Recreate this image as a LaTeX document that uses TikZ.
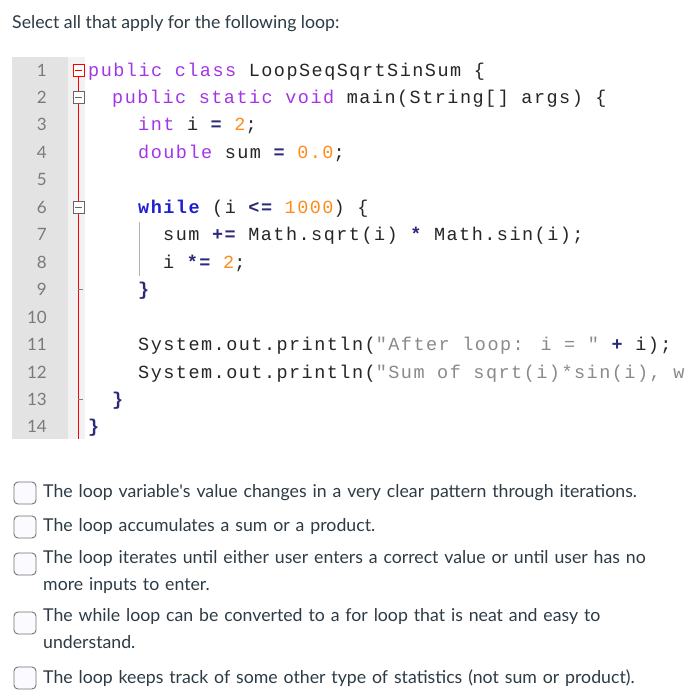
\documentclass[tikz,border=0pt]{standalone}
\usepackage{fontspec}
\setmainfont{Lato}
\newfontfamily\codefont[LetterSpace=8]{Liberation Mono}
\definecolor{kw}{HTML}{A335E8}
\definecolor{kwb}{HTML}{1F1FD0}
\definecolor{num}{HTML}{FF8C1A}
\definecolor{str}{HTML}{8A8A8A}
\definecolor{op}{HTML}{2A2A7A}
\definecolor{txt}{HTML}{2D3B45}
\definecolor{lnum}{HTML}{7A7A7A}
\newcommand{\K}[1]{\textcolor{kw}{#1}}
\newcommand{\W}[1]{\textcolor{kwb}{\bfseries #1}}
\newcommand{\N}[1]{\textcolor{num}{#1}}
\newcommand{\St}[1]{\textcolor{str}{#1}}
\newcommand{\Op}[1]{\textcolor{op}{\bfseries #1}}
\tikzset{
  code/.style={anchor=base west,inner sep=0pt,font=\codefont\fontsize{18.5}{20}\selectfont,text=black!85},
  lnumst/.style={anchor=base east,inner sep=0pt,font=\fontsize{17}{18}\selectfont,text=lnum},
  opt/.style={anchor=base west,inner sep=0pt,font=\fontsize{17.7}{27}\selectfont,text=txt,align=left,text width=650pt},
  cbox/.style={draw=black!55,fill=blue!2,rounded corners=4pt,line width=0.9pt},
  fold/.style={draw=#1,fill=white,line width=0.8pt}
}
\begin{document}
\begin{tikzpicture}[x=1pt,y=-1pt]
\useasboundingbox (0,0) rectangle (700,697);
\fill[white] (0,0) rectangle (700,697);
\node[anchor=base west,inner sep=0pt,font=\fontsize{17.7}{20}\selectfont,text=txt] (q) at (12,28) {Select all that apply for the following loop:};
% gutter
\fill[black!11] (12,57) rectangle (68,439);
\fill[black!5] (68,57) rectangle (85,439);
\draw[red,line width=1pt] (78,70) -- (78,439);
\foreach \i in {1,...,14}{
  \node[lnumst] (n\i) at (47,{76+27.46*(\i-1)}) {\i};
}
\draw[black!50] (78,{70+27.46*8}) -- (83,{70+27.46*8});
\draw[black!50] (78,{70+27.46*12}) -- (83,{70+27.46*12});
\draw[fold=red] (73,64) rectangle (84,76);
\draw[red] (75,70) -- (82,70);
\draw[fold=black!60] (73,{64+27.46}) rectangle (84,{76+27.46});
\draw[black!60] (75,{70+27.46}) -- (82,{70+27.46});
\draw[fold=black!60] (73,{64+27.46*5}) rectangle (84,{76+27.46*5});
\draw[black!60] (75,{70+27.46*5}) -- (82,{70+27.46*5});
\draw[black!30] (139,222) -- (139,276);
% code
\node[code] (c1) at (88,76) {\K{public class} LoopSeqSqrtSinSum \{};
\node[code] (c2) at (112,{76+27.46}) {\K{public static void} main(String[] args) \{};
\node[code] (c3) at (138,{76+27.46*2}) {\K{int} i \Op{=} \N{2};};
\node[code] (c4) at (138,{76+27.46*3}) {\K{double} sum \Op{=} \N{0.0};};
\node[code] (c6) at (138,{76+27.46*5}) {\W{while} (i \Op{<=} \N{1000}) \{};
\node[code] (c7) at (163,{76+27.46*6}) {sum \Op{+=} Math.sqrt(i) \Op{*} Math.sin(i);};
\node[code] (c8) at (163,{76+27.46*7}) {i \Op{*=} \N{2};};
\node[code] (c9) at (138,{76+27.46*8}) {\Op{\}}};
\node[code] (c11) at (138,{76+27.46*10}) {System.out.println(\St{"After loop: i = "} \Op{+} i);};
\node[code] (c12) at (138,{76+27.46*11}) {System.out.println(\St{"Sum of sqrt(i)*sin(i), w}};
\node[code] (c13) at (112,{76+27.46*12}) {\Op{\}}};
\node[code] (c14) at (88,{76+27.46*13}) {\Op{\}}};
% options
\draw[cbox] (14,482) rectangle (36,504);
\node[opt] (o1) at (43,497) {The loop variable\textquotesingle s value changes in a very clear pattern through iterations.};
\draw[cbox] (14,516) rectangle (36,538);
\node[opt] (o2) at (43,531) {The loop accumulates a sum or a product.};
\draw[cbox] (14,553) rectangle (36,575);
\node[opt] (o3) at (43,563) {The loop iterates until either user enters a correct value or until user has no\\more inputs to enter.};
\draw[cbox] (14,612) rectangle (36,634);
\node[opt] (o4) at (43,621) {The while loop can be converted to a for loop that is neat and easy to\\understand.};
\draw[cbox] (14,667) rectangle (36,689);
\node[opt] (o5) at (43,683) {The loop keeps track of some other type of statistics (not sum or product).};
\end{tikzpicture}
\end{document}
